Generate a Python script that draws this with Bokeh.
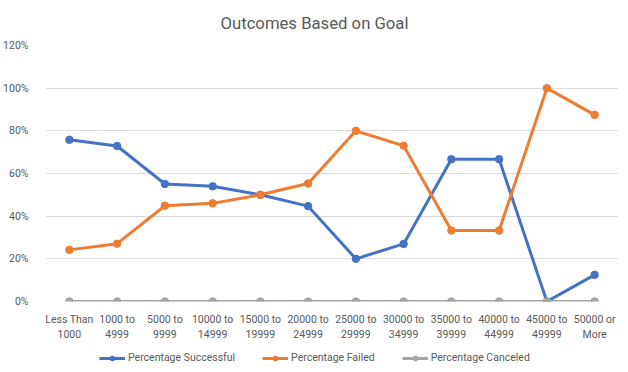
from bokeh.plotting import figure
from bokeh.layouts import column
from bokeh.models import FactorRange, Range1d, FixedTicker, NumeralTickFormatter, Legend, LegendItem
from bokeh.embed import file_html
from bokeh.resources import INLINE

categories = ["Less Than\n1000", "1000 to\n4999", "5000 to\n9999", "10000 to\n14999",
              "15000 to\n19999", "20000 to\n24999", "25000 to\n29999", "30000 to\n34999",
              "35000 to\n39999", "40000 to\n44999", "45000 to\n49999", "50000 or\nMore"]
successful = [0.758, 0.729, 0.551, 0.540, 0.500, 0.447, 0.200, 0.270, 0.667, 0.667, 0.000, 0.125]
failed = [0.242, 0.271, 0.449, 0.460, 0.500, 0.553, 0.800, 0.730, 0.333, 0.333, 1.000, 0.875]
canceled = [0.0, 0.0, 0.0, 0.0, 0.0, 0.0, 0.0, 0.0, 0.0, 0.0, 0.0, 0.0]
series_names = ["Percentage Successful", "Percentage Failed", "Percentage Canceled"]
series_colors = ["#4472C4", "#ED7D31", "#A5A5A5"]
y_ticks = [0.0, 0.2, 0.4, 0.6, 0.8, 1.0, 1.2]

FONT = "Roboto"
TXT = "#595959"

p = figure(width=628, height=344, output_backend="svg", toolbar_location=None,
           x_range=FactorRange(*categories, range_padding=0), y_range=Range1d(0, 1.2),
           min_border_left=41, min_border_right=10, min_border_top=45, min_border_bottom=42,
           title="Outcomes Based on Goal")
p.outline_line_color = None
p.background_fill_color = "white"
p.border_fill_color = "white"

p.title.align = "left"
p.title.vertical_align = "top"
p.title.text_font = FONT
p.title.text_font_size = "16.7px"
p.title.text_font_style = "normal"
p.title.text_color = TXT
p.title.offset = 175
p.title.standoff = 22

p.xgrid.grid_line_color = None
p.ygrid.grid_line_color = "#d9d9d9"
p.ygrid.grid_line_width = 1
p.yaxis.ticker = FixedTicker(ticks=y_ticks)
p.yaxis.formatter = NumeralTickFormatter(format="0%")
for ax in (p.xaxis[0], p.yaxis[0]):
    ax.axis_line_color = None
    ax.major_tick_line_color = None
    ax.minor_tick_line_color = None
    ax.major_label_text_font = FONT
    ax.major_label_text_font_size = "10.5px"
    ax.major_label_text_color = TXT
p.yaxis.major_label_standoff = 11
p.xaxis.major_label_standoff = 5

all_values = [successful, failed, canceled]
for vals, col in zip(all_values, series_colors):
    p.line(categories, vals, line_color=col, line_width=3)
    p.scatter(categories, vals, size=7.5, fill_color=col, line_color=col)

# legend strip below the chart
lg = figure(width=628, height=28, output_backend="svg", toolbar_location=None,
            x_range=FactorRange(*categories, range_padding=0), y_range=Range1d(0, 1.2),
            x_axis_type=None, y_axis_type=None,
            min_border_left=0, min_border_right=0, min_border_top=0, min_border_bottom=0)
lg.outline_line_color = None
lg.grid.grid_line_color = None
lg.background_fill_color = "white"
lg.border_fill_color = "white"
items = []
for vals, col, name in zip(all_values, series_colors, series_names):
    r1 = lg.line(categories, vals, line_color=col, line_width=3, visible=False)
    r2 = lg.scatter(categories, vals, size=6.5, fill_color=col, line_color=col, visible=False)
    items.append(LegendItem(label=name, renderers=[r1, r2]))

legend = Legend(items=items, orientation="horizontal", location=(54, 8),
                label_text_font=FONT, label_text_font_size="10.5px", label_text_color=TXT,
                glyph_width=26, glyph_height=12, label_height=12, spacing=27,
                padding=0, margin=0, border_line_color=None, background_fill_alpha=0,
                inactive_fill_alpha=0, label_standoff=3)
lg.add_layout(legend, "center")

layout = column(p, lg, spacing=0)
open("out.html", "w").write(file_html(layout, INLINE))
